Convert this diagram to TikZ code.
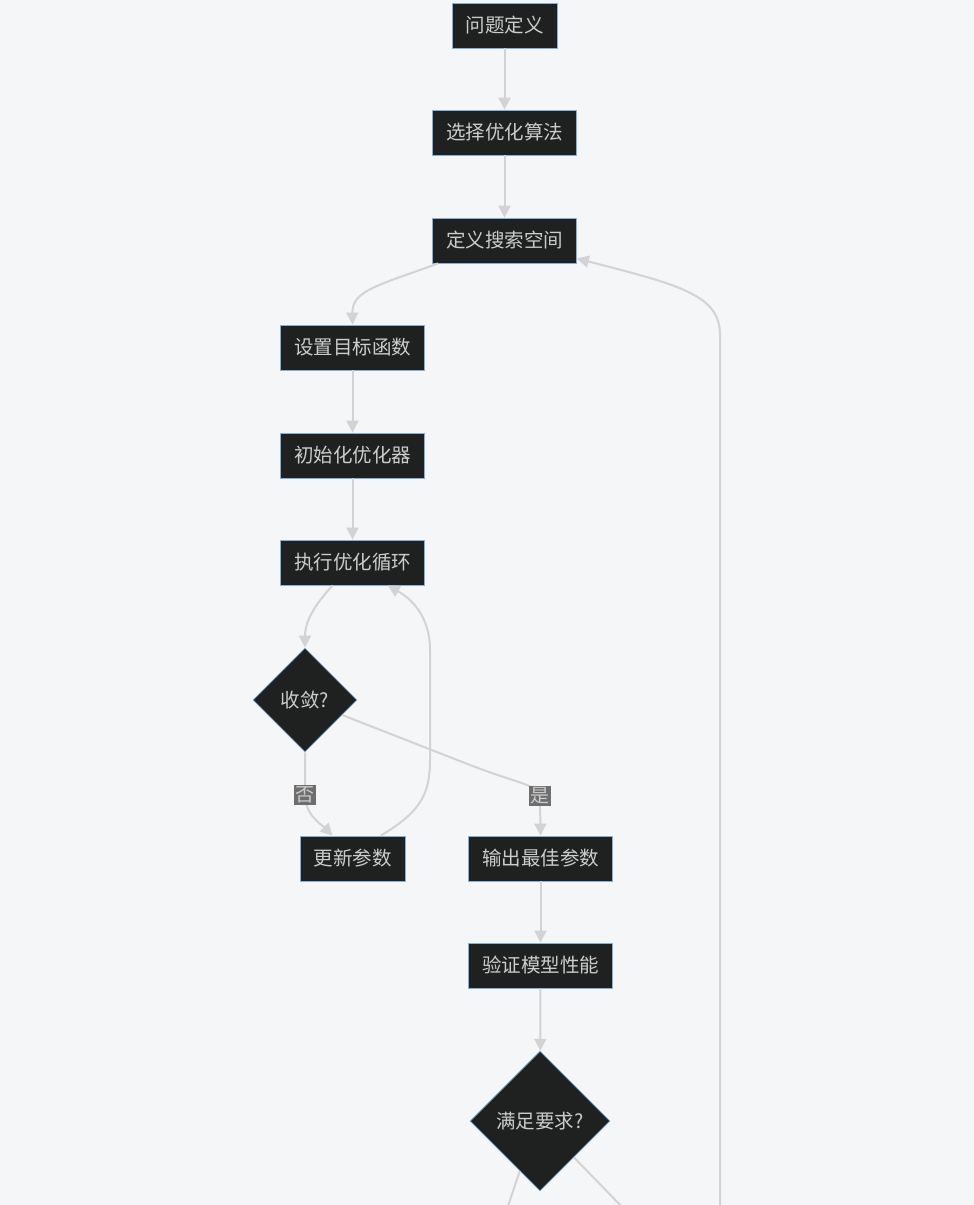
\documentclass[tikz,border=0pt]{standalone}
\usepackage{fontspec}
\newfontfamily\cjk{Noto Sans CJK SC}
\usepackage{xcolor}
\usetikzlibrary{arrows.meta,shapes.geometric}
\definecolor{bgc}{HTML}{F5F6F8}
\definecolor{boxc}{HTML}{1F2020}
\definecolor{rimc}{HTML}{81B1DB}
\definecolor{txtc}{HTML}{CCCCCC}
\definecolor{linkc}{HTML}{D3D3D3}
\definecolor{lblc}{HTML}{6E6E6E}

\begin{document}
\begin{tikzpicture}[x=1pt, y=1pt,
    stepbox/.style={draw=rimc, fill=boxc, text=txtc, line width=0.8pt,
      font=\cjk\fontsize{19.5}{22}\selectfont, inner xsep=13.5pt,
      minimum height=45pt},
    choice/.style={stepbox, diamond, aspect=1, inner sep=0pt},
    link/.style={draw=linkc, line width=2pt,
      -{Triangle[length=12pt,width=12pt]}},
    lbl/.style={fill=lblc, text=txtc, inner sep=1.5pt,
      font=\cjk\fontsize{19}{20}\selectfont}]
    \fill[bgc] (0,0) rectangle (974,-1205);
    \useasboundingbox (0,0) rectangle (974,-1205);
    \clip (0,0) rectangle (974,-1205);

    \node[stepbox] (prob) at (504.5,-25.5) {问题定义};
    \node[stepbox] (algo) at (504.5,-132.5) {选择优化算法};
    \node[stepbox] (space) at (504.5,-240.5) {定义搜索空间};
    \node[stepbox] (goal) at (352.5,-347.5) {设置目标函数};
    \node[stepbox] (init) at (352.5,-455.5) {初始化优化器};
    \node[stepbox] (loop) at (352.5,-562.5) {执行优化循环};
    \node[choice, minimum size=104pt] (conv) at (305,-700) {收敛?};
    \node[stepbox] (upd) at (352.5,-858.5) {更新参数};
    \node[stepbox] (best) at (540.5,-858.5) {输出最佳参数};
    \node[stepbox] (check) at (540.5,-965.5) {验证模型性能};
    \node[choice, minimum size=140pt] (ok) at (540,-1121) {满足要求?};

    \coordinate (exitL) at (506,-1212);
    \coordinate (exitR) at (627,-1212);
    \coordinate (backin) at (720,-1212);

    \draw[link] (prob) -- (algo);
    \draw[link] (algo) -- (space);
    \draw[link] (space.199) .. controls (380,-285) and (352,-290) .. (goal.north);
    \draw[link] (goal) -- (init);
    \draw[link] (init) -- (loop);
    \draw[link] (loop.229) .. controls (310,-610) and (305,-625) .. (conv.north);
    \draw[link] (conv.south) -- (305,-795) node[lbl] {否}
      .. controls (305,-815) and (322,-825) .. (upd.131);
    \draw[link] (conv.-22) -- (465,-763)
      .. controls (515,-783) and (540,-785) .. (540,-796) node[lbl] {是}
      -- (best.north);
    \draw[link] (upd.39) .. controls (420,-812) and (430,-795) .. (430,-760)
      -- (430,-650) .. controls (430,-615) and (410,-598) .. (loop.-33);
    \draw[link] (best) -- (check);
    \draw[link] (check) -- (ok);
    \draw[link, -] (ok.-112) -- (exitL);
    \draw[link, -] (ok.-47) -- (exitR);
    \draw[link] (backin) -- (720,-335)
      .. controls (720,-295) and (680,-285) .. (space.-14);
\end{tikzpicture}
\end{document}
